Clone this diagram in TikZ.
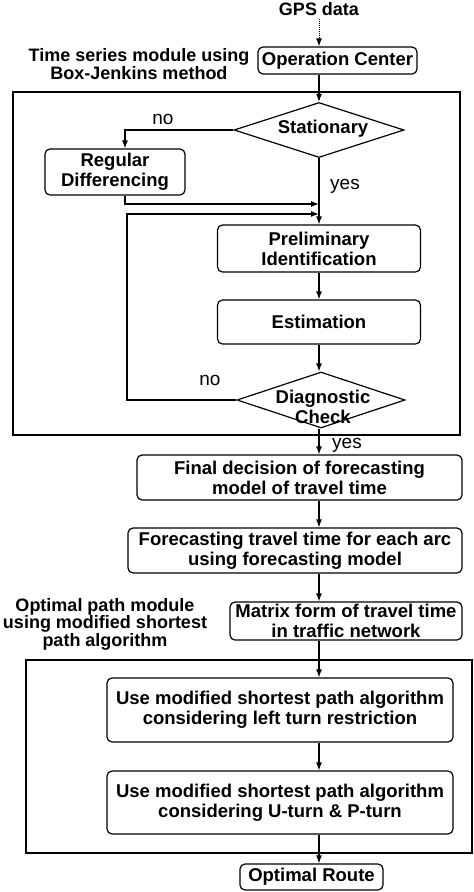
\documentclass[tikz,border=0pt]{standalone}
\usepackage{fontspec}
\setmainfont{Liberation Sans}
\usetikzlibrary{shapes.geometric,arrows.meta}
\begin{document}
\begin{tikzpicture}[x=1pt,y=-1pt,
  box/.style={draw, rounded corners=5pt, line width=1.2pt, align=center,
    inner sep=0pt, font=\bfseries\fontsize{18.5}{20}\selectfont},
  frame/.style={draw, line width=1.5pt},
  decision/.style={draw, diamond, line width=1.2pt, inner sep=0pt, aspect=3},
  dtext/.style={align=center, font=\bfseries\fontsize{18.5}{20}\selectfont},
  lbl/.style={align=center, font=\bfseries\fontsize{18}{17.5}\selectfont},
  ans/.style={font=\fontsize{19}{19}\selectfont},
  arr/.style={line width=1.2pt, -{Latex[length=8pt,width=6pt]}},
  dotarr/.style={line width=1pt, densely dotted, -{Latex[length=8pt,width=6pt]}}]
\useasboundingbox (0,0) rectangle (474,892);
\coordinate (ax) at (319,0);
% frames
\draw[frame] (13,92) rectangle (460,435);
\draw[frame] (26,660) rectangle (472,853);
% side labels
\node[lbl] (ts) at (139,64) {Time series module using\\Box-Jenkins method};
\node[lbl] (op) at (105,624) {Optimal path module\\using modified shortest\\path algorithm};
% nodes
\node[lbl] (gps) at (319,9) {GPS data};
\node[box, minimum width=159pt, minimum height=27pt] (oc) at (337.5,60.5) {Operation Center};
\node[decision, minimum width=170pt, minimum height=55pt] (st) at (319,130) {};
\node[dtext] at (323,129) {Stationary};
\node[box, minimum width=140pt, minimum height=46pt] (rd) at (115,172) {Regular\\Differencing};
\node[box, minimum width=203pt, minimum height=47pt] (pi) at (319,248.5) {Preliminary\\Identification};
\node[box, minimum width=203pt, minimum height=44pt] (est) at (319,322) {Estimation};
\node[decision, minimum width=168pt, minimum height=56pt] (dc) at (321,400) {};
\node[dtext] at (323,407) {Diagnostic\\Check};
\node[box, minimum width=325pt, minimum height=45pt] (fd) at (299.5,477.5) {Final decision of forecasting\\model of travel time};
\node[box, minimum width=334pt, minimum height=45pt] (fc) at (295,550.5) {Forecasting travel time for each arc\\using forecasting model};
\node[box, minimum width=232pt, minimum height=38pt] (mx) at (346,621) {Matrix form of travel time\\in traffic network};
\node[box, minimum width=346pt, minimum height=64pt] (u1) at (280,710) {Use modified shortest path algorithm\\considering left turn restriction};
\node[box, minimum width=346pt, minimum height=63pt] (u2) at (280,802.5) {Use modified shortest path algorithm\\considering U-turn \& P-turn};
\node[box, minimum width=143pt, minimum height=26pt] (or) at (311.5,877) {Optimal Route};
% answer labels
\node[ans] (n1) at (163,119) {no};
\node[ans] (y1) at (345,186) {yes};
\node[ans] (n2) at (210,380) {no};
\node[ans] (y2) at (347,445) {yes};
% connectors
\coordinate (j1) at (319,204);
\coordinate (j2) at (319,214);
\coordinate (lp) at (127,214);
\draw[dotarr] (gps.south) -- (gps.south |- oc.north);
\draw[arr] (oc.south -| ax) -- (st.north);
\draw[arr] (st.west) -| ([xshift=10pt]rd.north);
\draw[arr] (st.south) -- (pi.north);
\draw[arr] ([xshift=10pt]rd.south) |- (j1);
\draw[arr] (dc.west) -| (lp) -- (j2);
\draw[arr] (pi.south) -- (est.north);
\draw[arr] (est.south) -- (est.south |- dc.north);
\draw[arr] (dc.south -| ax) -- (fd.north -| ax);
\draw[arr] (fd.south -| ax) -- (fc.north -| ax);
\draw[arr] (fc.south -| ax) -- (mx.north -| ax);
\draw[arr] (mx.south -| ax) -- (u1.north -| ax);
\draw[arr] (u1.south -| ax) -- (u2.north -| ax);
\draw[arr] (u2.south -| ax) -- (or.north -| ax);
\end{tikzpicture}
\end{document}
